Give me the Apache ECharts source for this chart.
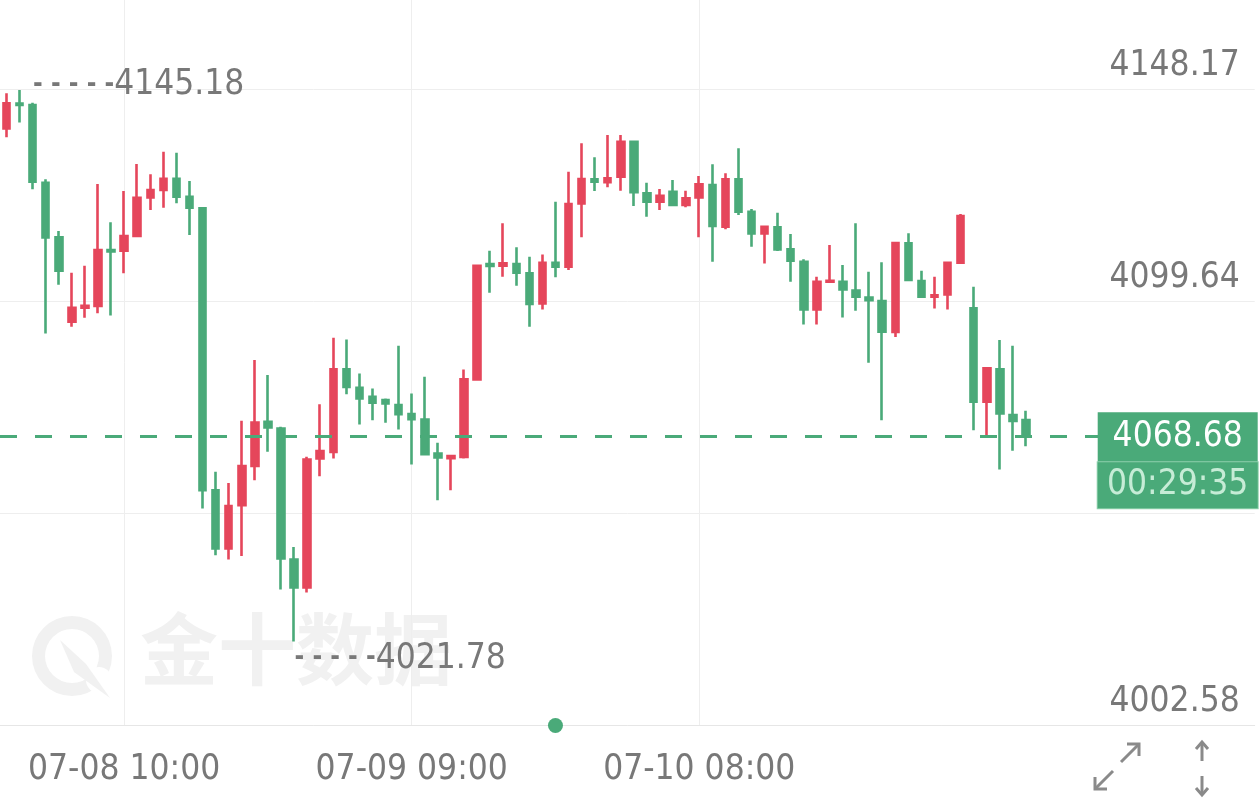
<!DOCTYPE html>
<html lang="zh">
<head>
    <meta charset="UTF-8">
    <title>金十数据 - 1小时K线</title>
    <style>
        html, body { margin: 0; padding: 0; background: #fff; }
        #kline { width: 1260px; height: 806px; }
    </style>
</head>
<body>
<div id="kline"></div>
<script src="https://cdn.jsdelivr.net/npm/echarts@6.0.0/dist/echarts.min.js"></script>
<script>
    // hourly candles, 07-08 00:00 .. 07-11 10:00 (05:00 is the daily break)
    const days = ['07-08', '07-09', '07-10', '07-11'];
    const categories = [];
    days.forEach(function (d) {
        for (let h = 0; h < 24; h++) {
            if (h === 5) continue;
            categories.push(d + ' ' + String(h).padStart(2, '0') + ':00');
        }
    });

    const openVals = [
        4139.20, 4144.92, 4144.58, 4126.79, 4114.29, 4094.96, 4098.17, 4098.56, 4111.38, 4111.22,
        4114.58, 4123.44, 4125.12, 4127.70, 4123.58, 4120.93, 4056.43, 4043.09, 4053.00, 4062.00,
        4072.07, 4070.56, 4040.57, 4034.16, 4063.69, 4065.20, 4084.07, 4079.85, 4077.79, 4077.04,
        4075.89, 4073.83, 4072.62, 4064.84, 4063.76, 4064.06, 4081.78, 4108.17, 4107.78, 4108.17,
        4106.05, 4099.18, 4108.47, 4107.56, 4122.07, 4127.57, 4126.88, 4128.16, 4136.17, 4124.36,
        4122.44, 4124.73, 4121.68, 4123.44, 4126.26, 4116.71, 4127.57, 4120.15, 4115.20, 4116.58,
        4111.54, 4108.70, 4097.80, 4104.12, 4104.12, 4102.11, 4100.50, 4099.70, 4092.61, 4112.91,
        4104.28, 4100.69, 4101.24, 4108.47, 4098.03, 4076.65, 4084.07, 4073.60, 4072.46
    ];
    const closeVals = [
        4144.96, 4144.58, 4127.02, 4114.29, 4106.64, 4098.17, 4098.63, 4111.38, 4111.08, 4114.58,
        4123.35, 4125.12, 4127.70, 4123.58, 4121.06, 4056.43, 4043.09, 4052.77, 4061.93, 4071.93,
        4070.79, 4040.80, 4034.16, 4063.46, 4065.36, 4084.07, 4080.08, 4077.43, 4076.42, 4076.28,
        4073.83, 4072.69, 4064.68, 4063.92, 4064.22, 4081.78, 4107.78, 4107.72, 4108.33, 4106.18,
        4099.02, 4108.47, 4107.56, 4121.91, 4127.63, 4127.02, 4127.79, 4136.17, 4124.59, 4122.44,
        4123.81, 4121.68, 4123.22, 4126.42, 4116.87, 4127.57, 4120.15, 4115.20, 4116.71, 4111.54,
        4108.93, 4097.80, 4104.12, 4104.35, 4102.38, 4100.69, 4099.93, 4092.67, 4112.98, 4104.51,
        4100.69, 4101.01, 4108.47, 4119.16, 4076.65, 4084.30, 4073.99, 4072.30, 4068.68
    ];
    const lowVals = [
        4137.18, 4140.57, 4125.28, 4092.31, 4103.43, 4093.82, 4095.88, 4096.89, 4096.43, 4106.05,
        4114.30, 4120.54, 4121.06, 4122.07, 4114.81, 4052.24, 4041.55, 4040.57, 4041.39, 4058.72,
        4065.20, 4033.70, 4021.78, 4033.01, 4059.64, 4063.69, 4078.41, 4071.48, 4072.46, 4071.84,
        4070.33, 4062.32, 4064.45, 4054.14, 4056.43, 4063.69, 4081.46, 4101.60, 4105.27, 4103.21,
        4093.82, 4097.80, 4105.13, 4106.80, 4114.29, 4124.89, 4125.73, 4124.96, 4121.45, 4119.00,
        4120.54, 4121.45, 4121.16, 4114.29, 4108.70, 4116.12, 4119.39, 4112.13, 4108.33, 4111.15,
        4104.12, 4094.37, 4094.37, 4104.12, 4095.97, 4097.48, 4085.58, 4072.46, 4091.46, 4104.35,
        4100.46, 4098.03, 4097.80, 4108.33, 4070.17, 4068.64, 4061.17, 4065.43, 4066.51
    ];
    const highVals = [
        4147.25, 4148.01, 4145.10, 4127.57, 4115.73, 4106.18, 4107.78, 4126.49, 4117.72, 4124.89,
        4131.07, 4128.71, 4133.88, 4133.66, 4127.18, 4121.06, 4060.62, 4058.10, 4072.30, 4086.20,
        4082.76, 4070.93, 4043.45, 4064.06, 4076.12, 4091.30, 4090.93, 4083.15, 4079.72, 4077.43,
        4089.47, 4078.57, 4082.37, 4067.26, 4064.30, 4084.07, 4107.94, 4111.22, 4117.49, 4112.00,
        4109.85, 4110.39, 4122.44, 4129.31, 4135.81, 4132.60, 4137.71, 4137.71, 4136.30, 4126.79,
        4125.34, 4127.40, 4124.96, 4128.32, 4131.00, 4128.94, 4134.66, 4120.77, 4116.94, 4119.92,
        4115.04, 4109.25, 4105.27, 4112.52, 4107.94, 4117.49, 4106.41, 4108.59, 4113.28, 4115.20,
        4106.64, 4105.27, 4108.70, 4119.62, 4102.98, 4084.43, 4090.77, 4089.47, 4074.59
    ];

    const xTickLabels = ['07-08 10:00', '07-09 09:00', '07-10 08:00'];
    const yMin = 4002.58;
    const yMax = 4168.60;
    const yStep = 48.53;

    const lastPrice = 4068.68;
    const countdown = '00:29:35';
    const highMark = 4145.18, highIdx = 1;
    const lowMark = 4021.78, lowIdx = 22;
    const eventIdx = 42;
    const slots = 96;  // room on the right of the last candle

    const RED = '#e5465b';
    const GREEN = '#4aaa79';
    const GREY = '#787878';
    const NUM_FONT = '"DejaVu Sans Condensed", "Roboto", sans-serif';
    const NUM_SIZE = 35;

    const xData = categories.slice(0, slots);
    while (xData.length < slots) xData.push('');
    const candles = openVals.map(function (o, i) {
        return [o, closeVals[i], lowVals[i], highVals[i]];
    });
    const showTick = function (idx, val) { return xTickLabels.indexOf(val) >= 0; };

    const chart = echarts.init(document.getElementById('kline'));
    chart.setOption({
        animation: false,
        backgroundColor: '#ffffff',
        grid: { left: 0, right: 5.3, top: 0, bottom: 80.5, containLabel: false, outerBoundsMode: 'none' },
        xAxis: {
            type: 'category',
            data: xData,
            boundaryGap: true,
            axisLine: { show: true, lineStyle: { color: '#e6e6e6', width: 1 } },
            axisTick: { show: false, alignWithLabel: true },
            axisLabel: {
                interval: showTick, color: GREY, fontSize: NUM_SIZE, fontFamily: NUM_FONT, margin: 27
            },
            splitLine: {
                show: true, interval: showTick, alignWithLabel: true,
                lineStyle: { color: '#eeeeee', width: 1 }
            }
        },
        yAxis: {
            type: 'value',
            position: 'right',
            min: yMin, max: yMax, interval: yStep,
            axisLine: { show: false },
            axisTick: { show: false },
            axisLabel: {
                inside: true, showMaxLabel: false, verticalAlign: 'bottom', margin: 15,
                padding: [0, 0, 6, 0],
                color: GREY, fontSize: NUM_SIZE, fontFamily: NUM_FONT,
                formatter: function (v) { return v.toFixed(2); }
            },
            splitLine: { show: true, showMaxLine: false, lineStyle: { color: '#eeeeee', width: 1 } }
        },
        graphic: [
            // watermark
            { type: 'ring', z: 0, silent: true, shape: { cx: 72, cy: 656, r: 40, r0: 27 }, style: { fill: '#f1f1f1' } },
            { type: 'circle', z: 0, silent: true, shape: { cx: 99, cy: 680, r: 13 }, style: { fill: '#ffffff' } },
            { type: 'polygon', z: 0, silent: true, shape: { points: [[60, 640], [86, 664], [110, 698], [74, 672]] }, style: { fill: '#f1f1f1' } },
            {
                type: 'text', z: 0, silent: true, left: 140, top: 610,
                style: { text: '金十数据', font: 'bold 78px "Noto Sans CJK SC", sans-serif', fill: '#f1f1f1' }
            },
            // corner icons
            {
                type: 'group', silent: true, children: [
                    { type: 'polyline', shape: { points: [[1121, 762], [1139, 744]] }, style: { stroke: '#8a8a8a', lineWidth: 3 } },
                    { type: 'polyline', shape: { points: [[1127, 744], [1139, 744], [1139, 756]] }, style: { stroke: '#8a8a8a', lineWidth: 3, fill: null } },
                    { type: 'polyline', shape: { points: [[1113, 771], [1095, 789]] }, style: { stroke: '#8a8a8a', lineWidth: 3 } },
                    { type: 'polyline', shape: { points: [[1095, 777], [1095, 789], [1107, 789]] }, style: { stroke: '#8a8a8a', lineWidth: 3, fill: null } },
                    { type: 'polyline', shape: { points: [[1202, 742], [1202, 761]] }, style: { stroke: '#8a8a8a', lineWidth: 3 } },
                    { type: 'polyline', shape: { points: [[1196, 749], [1202, 742], [1208, 749]] }, style: { stroke: '#8a8a8a', lineWidth: 3, fill: null } },
                    { type: 'polyline', shape: { points: [[1202, 776], [1202, 795]] }, style: { stroke: '#8a8a8a', lineWidth: 3 } },
                    { type: 'polyline', shape: { points: [[1196, 788], [1202, 795], [1208, 788]] }, style: { stroke: '#8a8a8a', lineWidth: 3, fill: null } }
                ]
            }
        ],
        series: [{
            type: 'candlestick',
            data: candles,
            barWidth: 7,
            clip: false,
            itemStyle: {
                color: RED, color0: GREEN,
                borderColor: RED, borderColor0: GREEN,
                borderWidth: 2.6
            },
            markLine: {
                silent: true,
                symbol: ['none', 'none'],
                lineStyle: { color: GREEN, width: 3, type: [17, 18] },
                label: {
                    show: true,
                    position: 'end',
                    distance: -157,
                    formatter: '{s|}\n{a|' + lastPrice.toFixed(2) + '}\n{b|' + countdown + '}',
                    rich: {
                        s: { height: 47, width: 160 },
                        a: {
                            width: 160, height: 50, align: 'center', backgroundColor: GREEN,
                            color: '#ffffff', fontSize: NUM_SIZE, fontFamily: NUM_FONT
                        },
                        b: {
                            width: 160, height: 46, align: 'center', backgroundColor: GREEN,
                            borderColor: '#8fd0ad', borderWidth: 1,
                            color: '#c6ecd6', fontSize: NUM_SIZE, fontFamily: NUM_FONT
                        }
                    }
                },
                data: [{ yAxis: lastPrice }]
            },
            markPoint: {
                symbol: 'circle',
                symbolSize: 1,
                itemStyle: { color: 'rgba(0,0,0,0)' },
                data: [
                    {
                        coord: [highIdx, highVals[highIdx]],
                        label: {
                            show: true, position: 'right', distance: 13, offset: [0, -5],
                            formatter: '{d|- - - - -}{v|' + highMark.toFixed(2) + '}',
                            rich: {
                                d: { color: GREY, fontSize: 26, fontWeight: 'bold', fontFamily: NUM_FONT },
                                v: { color: GREY, fontSize: NUM_SIZE, fontFamily: NUM_FONT }
                            }
                        }
                    },
                    {
                        coord: [lowIdx, lowVals[lowIdx]],
                        label: {
                            show: true, position: 'right', distance: 0, offset: [0, 17],
                            formatter: '{d|- - - - -}{v|' + lowMark.toFixed(2) + '}',
                            rich: {
                                d: { color: GREY, fontSize: 26, fontWeight: 'bold', fontFamily: NUM_FONT },
                                v: { color: GREY, fontSize: NUM_SIZE, fontFamily: NUM_FONT }
                            }
                        }
                    },
                    {
                        coord: [eventIdx, yMin],
                        symbolSize: 15,
                        itemStyle: { color: GREEN },
                        label: { show: false }
                    }
                ]
            }
        }]
    });
</script>
</body>
</html>
